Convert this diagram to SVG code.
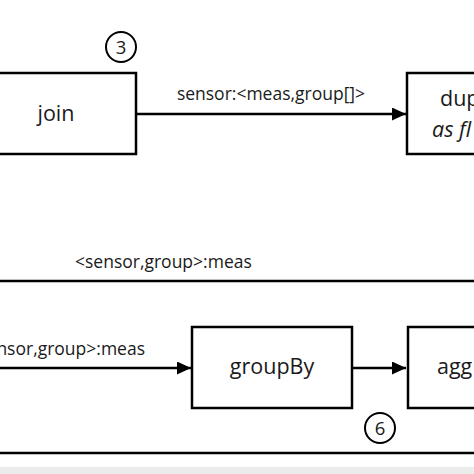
<svg xmlns="http://www.w3.org/2000/svg" width="474" height="474" viewBox="0 0 474 474">
<style>
.box{fill:#fff;stroke:#000;stroke-width:2.5}
.t{font-family:"Open Sans","Noto Sans",sans-serif;fill:#1a1a1a}
.n{font-size:21.5px;text-anchor:middle}
.l{font-size:17.5px}
.c{fill:#fff;stroke:#000;stroke-width:2}
.line{stroke:#000;stroke-width:2.5;fill:none}
</style>
<defs>
<marker id="ah" markerWidth="14" markerHeight="13" refX="14" refY="6.5" orient="auto" markerUnits="userSpaceOnUse">
<path d="M0,0 L14,6.5 L0,13 Z" fill="#000"/>
</marker>
</defs>
<rect x="0" y="0" width="474" height="474" fill="#fff"/>
<rect x="0" y="467" width="474" height="7" fill="#ececec"/>
<g id="connectors">
<line class="line" x1="137" y1="114" x2="406" y2="114" marker-end="url(#ah)"/>
<line class="line" x1="0" y1="368" x2="191" y2="368" marker-end="url(#ah)"/>
<line class="line" x1="353" y1="368" x2="406" y2="368" marker-end="url(#ah)"/>
<line class="line" x1="0" y1="281" x2="474" y2="281"/>
<line class="line" x1="0" y1="453" x2="474" y2="453"/>
<text class="t l" x="271" y="100" text-anchor="middle">sensor:&lt;meas,group[]&gt;</text>
<text class="t l" x="75" y="268">&lt;sensor,group&gt;:meas</text>
<text class="t l" x="145" y="355" text-anchor="end">&lt;sensor,group&gt;:meas</text>
</g>
<g id="join">
<rect class="box" x="-5" y="73" width="141" height="81"/>
<text class="t n" x="56" y="121">join</text>
</g>
<g id="dup">
<rect class="box" x="407" y="73" width="80" height="81"/>
<text class="t" x="440" y="106" font-size="21.5">dup</text>
<text class="t" x="432" y="137" font-size="21.5" font-style="italic">as fl</text>
</g>
<g id="groupBy">
<rect class="box" x="192" y="327" width="160" height="81"/>
<text class="t n" x="272" y="374">groupBy</text>
</g>
<g id="agg">
<rect class="box" x="408" y="327" width="80" height="81"/>
<text class="t" x="437" y="374" font-size="21.5">agg</text>
</g>
<g id="step3">
<circle class="c" cx="121" cy="47" r="15"/>
<text class="t" x="121" y="53.5" font-size="18.5" text-anchor="middle">3</text>
</g>
<g id="step6">
<circle class="c" cx="380" cy="428" r="15"/>
<text class="t" x="380" y="434.5" font-size="18.5" text-anchor="middle">6</text>
</g>
</svg>
